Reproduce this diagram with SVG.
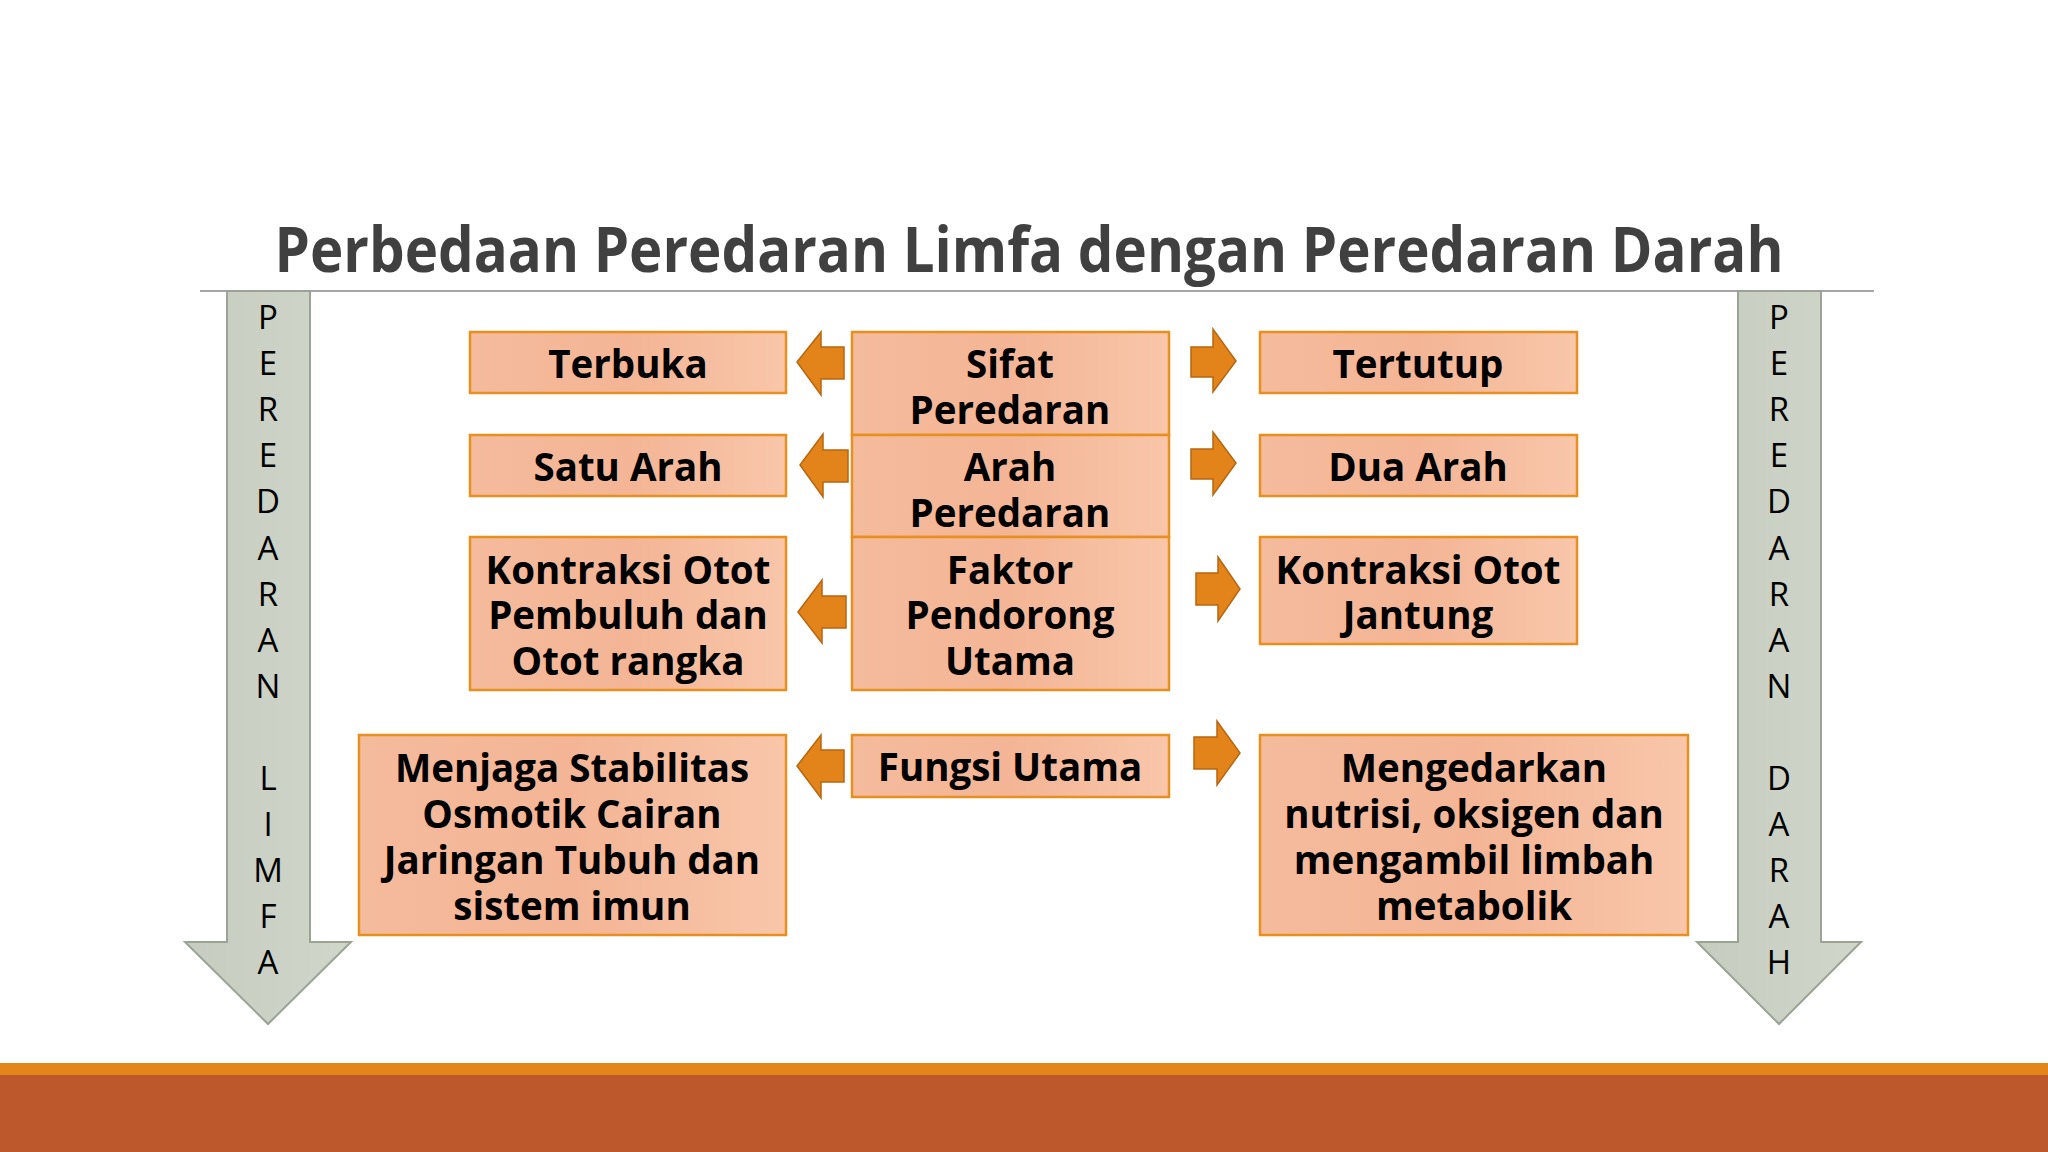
<svg xmlns="http://www.w3.org/2000/svg" width="2048" height="1152" viewBox="0 0 2048 1152">
<defs>
<linearGradient id="boxg" x1="0" y1="0" x2="1" y2="0">
<stop offset="0" stop-color="#f5bb9d"/>
<stop offset="0.5" stop-color="#f3b595"/>
<stop offset="1" stop-color="#f9c6aa"/>
</linearGradient>
<linearGradient id="grayg" x1="0" y1="0" x2="1" y2="0">
<stop offset="0" stop-color="#c6ccc0"/>
<stop offset="1" stop-color="#d0d6ca"/>
</linearGradient>
<style>
.box{fill:url(#boxg);stroke:#e8901f;stroke-width:2.5}
.t{font-family:"Open Sans","Noto Sans",sans-serif;font-weight:700;font-size:38.5px;fill:#000;text-anchor:middle}
.oa{fill:#e3841b;stroke:#b8660f;stroke-width:1.5;stroke-linejoin:miter}
.ga{fill:url(#grayg);stroke:#9aa495;stroke-width:2}
.gl{font-family:"Open Sans","Noto Sans",sans-serif;font-size:33px;fill:#000;text-anchor:middle}
</style>
</defs>
<rect width="2048" height="1152" fill="#ffffff"/>
<g id="title">
<text x="1029" y="272" font-family="'Open Sans','Noto Sans',sans-serif" font-weight="700" font-size="62" fill="#404040" text-anchor="middle" textLength="1509" lengthAdjust="spacingAndGlyphs">Perbedaan Peredaran Limfa dengan Peredaran Darah</text>
<line x1="200" y1="291" x2="1874" y2="291" stroke="#a6a6a6" stroke-width="2"/>
</g>
<g id="footer">
<rect x="0" y="1063" width="2048" height="12" fill="#e2861a"/>
<rect x="0" y="1075" width="2048" height="77" fill="#bc582c"/>
</g>
<g id="arrow-limfa">
<path class="ga" d="M227,291 L310,291 L310,942 L351,942 L268,1024 L185,942 L227,942 Z"/>
<text class="gl" x="268" y="329">P</text>
<text class="gl" x="268" y="375">E</text>
<text class="gl" x="268" y="421">R</text>
<text class="gl" x="268" y="467">E</text>
<text class="gl" x="268" y="513">D</text>
<text class="gl" x="268" y="560">A</text>
<text class="gl" x="268" y="606">R</text>
<text class="gl" x="268" y="652">A</text>
<text class="gl" x="268" y="698">N</text>
<text class="gl" x="268" y="790">L</text>
<text class="gl" x="268" y="836">I</text>
<text class="gl" x="268" y="882">M</text>
<text class="gl" x="268" y="928">F</text>
<text class="gl" x="268" y="974">A</text>
</g>
<g id="arrow-darah">
<path class="ga" d="M1738,291 L1821,291 L1821,942 L1861,942 L1779,1024 L1697,942 L1738,942 Z"/>
<text class="gl" x="1779" y="329">P</text>
<text class="gl" x="1779" y="375">E</text>
<text class="gl" x="1779" y="421">R</text>
<text class="gl" x="1779" y="467">E</text>
<text class="gl" x="1779" y="513">D</text>
<text class="gl" x="1779" y="560">A</text>
<text class="gl" x="1779" y="606">R</text>
<text class="gl" x="1779" y="652">A</text>
<text class="gl" x="1779" y="698">N</text>
<text class="gl" x="1779" y="790">D</text>
<text class="gl" x="1779" y="836">A</text>
<text class="gl" x="1779" y="882">R</text>
<text class="gl" x="1779" y="928">A</text>
<text class="gl" x="1779" y="974">H</text>
</g>
<g id="connectors">
<path class="oa" d="M797,362 L821,332 L821,347 L844,347 L844,379 L821,379 L821,395 Z"/>
<path class="oa" d="M800,465 L823,434 L823,450 L848,450 L848,482 L823,482 L823,497 Z"/>
<path class="oa" d="M798,612 L822,580 L822,596 L846,596 L846,628 L822,628 L822,643 Z"/>
<path class="oa" d="M797,766 L821,735 L821,750 L844,750 L844,782 L821,782 L821,798 Z"/>
<path class="oa" d="M1191,347 L1213,347 L1213,329 L1236,361 L1213,392 L1213,377 L1191,377 Z"/>
<path class="oa" d="M1191,449 L1213,449 L1213,432 L1236,463 L1213,495 L1213,479 L1191,479 Z"/>
<path class="oa" d="M1196,573 L1218,573 L1218,557 L1240,589 L1218,621 L1218,605 L1196,605 Z"/>
<path class="oa" d="M1194,737 L1217,737 L1217,721 L1240,753 L1217,785 L1217,769 L1194,769 Z"/>
</g>
<g id="node-sifat">
<rect class="box" x="852" y="332" width="317" height="103"/>
<text class="t" x="1010" y="378">Sifat</text>
<text class="t" x="1010" y="424">Peredaran</text>
</g>
<g id="node-arah">
<rect class="box" x="852" y="435" width="317" height="102"/>
<text class="t" x="1010" y="481">Arah</text>
<text class="t" x="1010" y="527">Peredaran</text>
</g>
<g id="node-faktor">
<rect class="box" x="852" y="537" width="317" height="153"/>
<text class="t" x="1010" y="584">Faktor</text>
<text class="t" x="1010" y="629">Pendorong</text>
<text class="t" x="1010" y="675">Utama</text>
</g>
<g id="node-fungsi">
<rect class="box" x="852" y="735" width="317" height="62"/>
<text class="t" x="1010" y="781">Fungsi Utama</text>
</g>
<g id="node-terbuka">
<rect class="box" x="470" y="332" width="316" height="61"/>
<text class="t" x="628" y="378">Terbuka</text>
</g>
<g id="node-satu-arah">
<rect class="box" x="470" y="435" width="316" height="61"/>
<text class="t" x="628" y="481">Satu Arah</text>
</g>
<g id="node-kontraksi-limfa">
<rect class="box" x="470" y="537" width="316" height="153"/>
<text class="t" x="628" y="584">Kontraksi Otot</text>
<text class="t" x="628" y="629">Pembuluh dan</text>
<text class="t" x="628" y="675">Otot rangka</text>
</g>
<g id="node-menjaga">
<rect class="box" x="359" y="735" width="427" height="200"/>
<text class="t" x="572" y="782">Menjaga Stabilitas</text>
<text class="t" x="572" y="828">Osmotik Cairan</text>
<text class="t" x="572" y="874">Jaringan Tubuh dan</text>
<text class="t" x="572" y="920">sistem imun</text>
</g>
<g id="node-tertutup">
<rect class="box" x="1260" y="332" width="317" height="61"/>
<text class="t" x="1418" y="378">Tertutup</text>
</g>
<g id="node-dua-arah">
<rect class="box" x="1260" y="435" width="317" height="61"/>
<text class="t" x="1418" y="481">Dua Arah</text>
</g>
<g id="node-kontraksi-darah">
<rect class="box" x="1260" y="537" width="317" height="107"/>
<text class="t" x="1418" y="584">Kontraksi Otot</text>
<text class="t" x="1418" y="629">Jantung</text>
</g>
<g id="node-mengedarkan">
<rect class="box" x="1260" y="735" width="428" height="200"/>
<text class="t" x="1474" y="782">Mengedarkan</text>
<text class="t" x="1474" y="828">nutrisi, oksigen dan</text>
<text class="t" x="1474" y="874">mengambil limbah</text>
<text class="t" x="1474" y="920">metabolik</text>
</g>
</svg>
